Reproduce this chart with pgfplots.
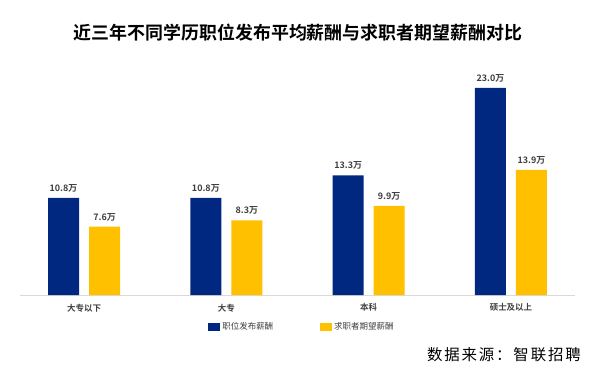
\documentclass[border=0pt]{standalone}
\usepackage{pgfplots}
\pgfplotsset{compat=1.18}
\usepackage{fontspec}
\setmainfont{Noto Sans CJK SC}
\newfontfamily\cjkbold{Noto Sans CJK SC Bold}
\newfontfamily\cjkspaced[LetterSpace=12]{Noto Sans CJK SC}
\definecolor{cblue}{RGB}{0,40,128}
\definecolor{cyellow}{RGB}{255,192,0}
\definecolor{labgray}{RGB}{64,64,64}
\begin{document}
\begin{tikzpicture}[x=1bp,y=1bp]
\useasboundingbox (0,0) rectangle (597,372);
\fill[white] (0,0) rectangle (597,372);
\begin{axis}[
  at={(20bp,77bp)}, anchor=south west,
  scale only axis, width=555bp, height=225bp,
  ymin=0, ymax=25, xmin=-0.45, xmax=3.45,
  ybar=10bp, bar width=31bp,
  axis y line=none,
  axis x line*=bottom,
  x axis line style={draw=black!15, line width=0.8bp, -},
  xtick={0,1,2,3}, xticklabels={大专以下,大专,本科,硕士及以上},
  xtick style={draw=none},
  xticklabel style={font=\cjkbold\fontsize{8.5}{10}\selectfont, text=labgray, yshift=-1bp},
  nodes near coords={\pgfmathprintnumber[fixed,fixed zerofill,precision=1,assume math mode=true]{\pgfplotspointmeta}万},
  every node near coord/.append style={font=\cjkbold\fontsize{9}{10}\selectfont, text=labgray, yshift=2bp},
  legend style={draw=none, at={(0.508,-0.142)}, anchor=center, legend columns=2,
    font=\fontsize{8.5}{10}\selectfont, text=labgray,
    /tikz/every even column/.append style={column sep=45bp}},
  legend image code/.code={\fill[#1] (0bp,-4bp) rectangle (12bp,4bp);},
]
\addplot[fill=cblue, draw=none] coordinates {(0,10.8) (1,10.8) (2,13.3) (3,23.0)};
\addplot[fill=cyellow, draw=none] coordinates {(0,7.6) (1,8.3) (2,9.9) (3,13.9)};
\legend{职位发布薪酬,求职者期望薪酬}
\end{axis}
\node[font=\cjkbold\fontsize{18}{20}\selectfont] at (298,339) {近三年不同学历职位发布平均薪酬与求职者期望薪酬对比};
\node[font=\cjkspaced\fontsize{15.5}{18}\selectfont, anchor=east, inner sep=0pt] at (581,17) {数据来源：智联招聘};
\end{tikzpicture}
\end{document}
